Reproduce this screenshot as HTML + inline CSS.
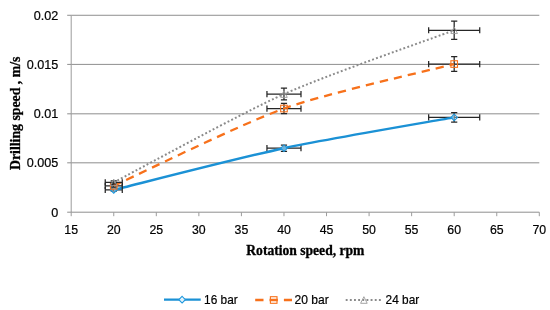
<!DOCTYPE html>
<html><head><meta charset="utf-8"><title>Chart</title>
<style>html,body{margin:0;padding:0;background:#fff}svg{display:block}</style></head>
<body>
<svg width="550" height="310" viewBox="0 0 550 310">
<rect width="550" height="310" fill="#fff"/>
<line x1="71.20" y1="162.82" x2="539.30" y2="162.82" stroke="#8E8E8E" stroke-width="1"/>
<line x1="71.20" y1="113.82" x2="539.30" y2="113.82" stroke="#8E8E8E" stroke-width="1"/>
<line x1="71.20" y1="64.40" x2="539.30" y2="64.40" stroke="#8E8E8E" stroke-width="1"/>
<line x1="71.20" y1="15.27" x2="539.30" y2="15.27" stroke="#8E8E8E" stroke-width="1"/>
<line x1="71.20" y1="15.30" x2="71.20" y2="212.20" stroke="#9C9C9C" stroke-width="1"/>
<line x1="67.20" y1="212.20" x2="539.30" y2="212.20" stroke="#8E8E8E" stroke-width="1"/>
<line x1="67.20" y1="162.82" x2="71.20" y2="162.82" stroke="#8E8E8E" stroke-width="1"/>
<line x1="67.20" y1="113.82" x2="71.20" y2="113.82" stroke="#8E8E8E" stroke-width="1"/>
<line x1="67.20" y1="64.40" x2="71.20" y2="64.40" stroke="#8E8E8E" stroke-width="1"/>
<line x1="67.20" y1="15.27" x2="71.20" y2="15.27" stroke="#8E8E8E" stroke-width="1"/>
<line x1="71.20" y1="212.20" x2="71.20" y2="216.20" stroke="#9C9C9C" stroke-width="1"/>
<line x1="113.75" y1="212.20" x2="113.75" y2="216.20" stroke="#9C9C9C" stroke-width="1"/>
<line x1="156.31" y1="212.20" x2="156.31" y2="216.20" stroke="#9C9C9C" stroke-width="1"/>
<line x1="198.86" y1="212.20" x2="198.86" y2="216.20" stroke="#9C9C9C" stroke-width="1"/>
<line x1="241.42" y1="212.20" x2="241.42" y2="216.20" stroke="#9C9C9C" stroke-width="1"/>
<line x1="283.97" y1="212.20" x2="283.97" y2="216.20" stroke="#9C9C9C" stroke-width="1"/>
<line x1="326.53" y1="212.20" x2="326.53" y2="216.20" stroke="#9C9C9C" stroke-width="1"/>
<line x1="369.08" y1="212.20" x2="369.08" y2="216.20" stroke="#9C9C9C" stroke-width="1"/>
<line x1="411.64" y1="212.20" x2="411.64" y2="216.20" stroke="#9C9C9C" stroke-width="1"/>
<line x1="454.19" y1="212.20" x2="454.19" y2="216.20" stroke="#9C9C9C" stroke-width="1"/>
<line x1="496.75" y1="212.20" x2="496.75" y2="216.20" stroke="#9C9C9C" stroke-width="1"/>
<line x1="539.30" y1="212.20" x2="539.30" y2="216.20" stroke="#9C9C9C" stroke-width="1"/>
<g font-family="'Liberation Sans', sans-serif" font-size="12.6" fill="#000" stroke="#000" stroke-width="0.2">
<text x="58.3" y="216.50" text-anchor="end">0</text>
<text x="58.3" y="167.28" text-anchor="end">0.005</text>
<text x="58.3" y="118.05" text-anchor="end">0.01</text>
<text x="58.3" y="68.83" text-anchor="end">0.015</text>
<text x="58.3" y="19.60" text-anchor="end">0.02</text>
<text x="71.20" y="234.2" text-anchor="middle" font-size="12.3">15</text>
<text x="113.75" y="234.2" text-anchor="middle" font-size="12.3">20</text>
<text x="156.31" y="234.2" text-anchor="middle" font-size="12.3">25</text>
<text x="198.86" y="234.2" text-anchor="middle" font-size="12.3">30</text>
<text x="241.42" y="234.2" text-anchor="middle" font-size="12.3">35</text>
<text x="283.97" y="234.2" text-anchor="middle" font-size="12.3">40</text>
<text x="326.53" y="234.2" text-anchor="middle" font-size="12.3">45</text>
<text x="369.08" y="234.2" text-anchor="middle" font-size="12.3">50</text>
<text x="411.64" y="234.2" text-anchor="middle" font-size="12.3">55</text>
<text x="454.19" y="234.2" text-anchor="middle" font-size="12.3">60</text>
<text x="496.75" y="234.2" text-anchor="middle" font-size="12.3">65</text>
<text x="539.30" y="234.2" text-anchor="middle" font-size="12.3">70</text>
</g>
<g font-family="'Liberation Serif', serif" font-weight="bold" font-size="13.6" fill="#000" stroke="#000" stroke-width="0.3">
<text x="246.3" y="254.5" textLength="118.1" lengthAdjust="spacingAndGlyphs">Rotation speed, rpm</text>
<text transform="translate(20 170) rotate(-90)" textLength="113.4" lengthAdjust="spacingAndGlyphs">Drilling speed , m/s</text>
</g>
<g stroke="#262626" stroke-width="1.25" fill="none">
<path d="M105.24 189.95 H122.27 M105.24 186.85 V193.05 M122.27 186.85 V193.05"/>
<path d="M113.75 188.84 V191.06 M110.65 188.84 H116.85 M110.65 191.06 H116.85"/>
<path d="M266.95 148.21 H300.99 M266.95 145.11 V151.31 M300.99 145.11 V151.31"/>
<path d="M283.97 145.01 V151.41 M280.87 145.01 H287.07 M280.87 151.41 H287.07"/>
<path d="M428.66 117.39 H479.72 M428.66 114.29 V120.49 M479.72 114.29 V120.49"/>
<path d="M454.19 112.65 V122.13 M451.09 112.65 H457.29 M451.09 122.13 H457.29"/>
</g>
<path d="M113.75 189.95 C135.03 184.73 241.42 157.28 283.97 148.21 C326.53 139.14 432.91 121.24 454.19 117.39" fill="none" stroke="#1B91D5" stroke-width="2.4"/>
<path d="M113.75 186.65 L117.05 189.95 L113.75 193.25 L110.45 189.95 Z" fill="#fff" fill-opacity="0.35" stroke="#1E98DE" stroke-width="1.1"/>
<path d="M283.97 144.91 L287.27 148.21 L283.97 151.51 L280.67 148.21 Z" fill="#fff" fill-opacity="0.35" stroke="#1E98DE" stroke-width="1.1"/>
<path d="M454.19 114.09 L457.49 117.39 L454.19 120.69 L450.89 117.39 Z" fill="#fff" fill-opacity="0.35" stroke="#1E98DE" stroke-width="1.1"/>
<g stroke="#262626" stroke-width="1.25" fill="none">
<path d="M105.24 185.82 H122.27 M105.24 182.72 V188.92 M122.27 182.72 V188.92"/>
<path d="M113.75 184.50 V187.13 M110.65 184.50 H116.85 M110.65 187.13 H116.85"/>
<path d="M266.95 108.53 H300.99 M266.95 105.43 V111.63 M300.99 105.43 V111.63"/>
<path d="M283.97 103.35 V113.72 M280.87 103.35 H287.07 M280.87 113.72 H287.07"/>
<path d="M428.66 64.03 H479.72 M428.66 60.93 V67.13 M479.72 60.93 V67.13"/>
<path d="M454.19 56.62 V71.44 M451.09 56.62 H457.29 M451.09 71.44 H457.29"/>
</g>
<path d="M113.75 185.82 C135.03 176.15 241.42 123.75 283.97 108.53 C326.53 93.31 432.91 69.60 454.19 64.03" fill="none" stroke="#F7711B" stroke-width="2.3" stroke-dasharray="8.3 6.05" stroke-dashoffset="0.6"/>
<rect x="110.45" y="182.52" width="6.60" height="6.60" fill="none" stroke="#F7711B" stroke-width="1.1"/>
<rect x="280.67" y="105.23" width="6.60" height="6.60" fill="none" stroke="#F7711B" stroke-width="1.1"/>
<rect x="450.89" y="60.73" width="6.60" height="6.60" fill="none" stroke="#F7711B" stroke-width="1.1"/>
<g stroke="#262626" stroke-width="1.25" fill="none">
<path d="M105.24 182.37 H122.27 M105.24 179.27 V185.47 M122.27 179.27 V185.47"/>
<path d="M113.75 180.88 V183.86 M110.65 180.88 H116.85 M110.65 183.86 H116.85"/>
<path d="M266.95 94.06 H300.99 M266.95 90.96 V97.16 M300.99 90.96 V97.16"/>
<path d="M283.97 88.15 V99.97 M280.87 88.15 H287.07 M280.87 99.97 H287.07"/>
<path d="M428.66 30.26 H479.72 M428.66 27.16 V33.36 M479.72 27.16 V33.36"/>
<path d="M454.19 21.17 V39.36 M451.09 21.17 H457.29 M451.09 39.36 H457.29"/>
</g>
<path d="M113.75 182.37 C135.03 171.33 241.42 113.07 283.97 94.06 C326.53 75.05 432.91 38.24 454.19 30.26" fill="none" stroke="#8A8A8A" stroke-width="2.0" stroke-dasharray="1.9 2.25"/>
<path d="M113.75 179.07 L117.05 185.67 L110.45 185.67 Z" fill="none" stroke="#9A9A9A" stroke-width="0.9"/>
<path d="M283.97 90.76 L287.27 97.36 L280.67 97.36 Z" fill="none" stroke="#9A9A9A" stroke-width="0.9"/>
<path d="M454.19 26.96 L457.49 33.56 L450.89 33.56 Z" fill="none" stroke="#9A9A9A" stroke-width="0.9"/>
<line x1="164" y1="299.7" x2="200.7" y2="299.7" stroke="#1B91D5" stroke-width="2.2"/>
<path d="M182.10 296.40 L185.40 299.70 L182.10 303.00 L178.80 299.70 Z" fill="#fff" fill-opacity="0.85" stroke="#1E98DE" stroke-width="1.1"/>
<line x1="255.2" y1="300" x2="292" y2="300" stroke="#F7711B" stroke-width="2.3" stroke-dasharray="8.3 6.05"/>
<rect x="270.40" y="296.70" width="6.60" height="6.60" fill="none" stroke="#F7711B" stroke-width="1.1"/>
<line x1="345.7" y1="300" x2="382" y2="300" stroke="#8A8A8A" stroke-width="2.0" stroke-dasharray="1.9 2.25"/>
<path d="M363.90 296.70 L367.20 303.30 L360.60 303.30 Z" fill="none" stroke="#9A9A9A" stroke-width="0.9"/>
<g font-family="'Liberation Sans', sans-serif" font-size="12.6" fill="#000" stroke="#000" stroke-width="0.2">
<text x="204.1" y="304.2" textLength="33.6" lengthAdjust="spacingAndGlyphs">16 bar</text>
<text x="294.6" y="304.2" textLength="34.2" lengthAdjust="spacingAndGlyphs">20 bar</text>
<text x="385.6" y="304.2" textLength="33.6" lengthAdjust="spacingAndGlyphs">24 bar</text>
</g>
</svg>
</body></html>
